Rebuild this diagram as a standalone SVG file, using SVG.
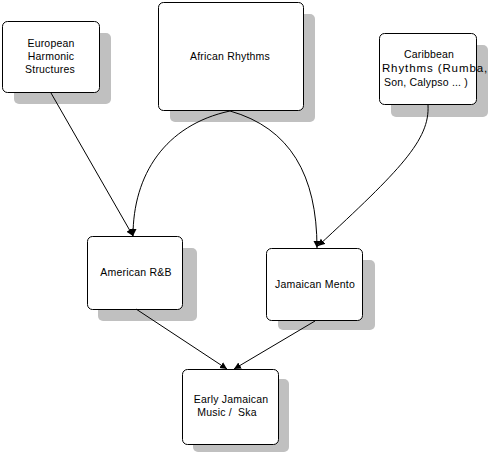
<svg xmlns="http://www.w3.org/2000/svg" width="489" height="455" viewBox="0 0 489 455">
<style>
.shadow{fill:#c0c0c0;stroke:none}
.box{fill:#ffffff;stroke:#000000;stroke-width:1}
.lbl{font-family:"Liberation Sans",Arial,sans-serif;font-size:10.5px;letter-spacing:0.2px;fill:#000000;text-anchor:middle}
.conn{fill:none;stroke:#000000;stroke-width:1;marker-end:url(#arrow)}
</style>
<defs>
<marker id="arrow" markerUnits="userSpaceOnUse" markerWidth="10" markerHeight="10" refX="7" refY="3.5" orient="auto">
<path d="M0,0 L7,3.5 L0,7 z" fill="#000000"/>
</marker>
</defs>
<rect width="489" height="455" fill="#ffffff"/>
<g id="european">
<rect class="shadow" x="14" y="33" width="97" height="71" rx="5"/>
<rect class="box" x="2.5" y="21.5" width="97" height="71" rx="5"/>
<text class="lbl" x="51" y="47">European</text>
<text class="lbl" x="51" y="60">Harmonic</text>
<text class="lbl" x="50" y="73">Structures</text>
</g>
<g id="african">
<rect class="shadow" x="170" y="14" width="145" height="108" rx="5"/>
<rect class="box" x="158.5" y="2.5" width="145" height="108" rx="5"/>
<text class="lbl" x="230" y="60">African Rhythms</text>
</g>
<g id="caribbean">
<rect class="shadow" x="391" y="45" width="97" height="72" rx="5"/>
<rect class="box" x="379.5" y="33.5" width="97" height="71" rx="5"/>
<text class="lbl" x="429" y="58">Caribbean</text>
<text class="lbl" x="435" y="72" style="font-size:11.5px;letter-spacing:0.9px">Rhythms (Rumba,</text>
<text class="lbl" x="426" y="86">Son, Calypso ... )</text>
</g>
<g id="american">
<rect class="shadow" x="98" y="248" width="99" height="73" rx="5"/>
<rect class="box" x="87.5" y="236.5" width="95" height="73" rx="5"/>
<text class="lbl" x="136" y="276">American R&amp;B</text>
</g>
<g id="mento">
<rect class="shadow" x="278" y="260" width="97" height="70" rx="5"/>
<rect class="box" x="266.5" y="248.5" width="96" height="72" rx="5"/>
<text class="lbl" x="315" y="288">Jamaican Mento</text>
</g>
<g id="early">
<rect class="shadow" x="193" y="379" width="96" height="73" rx="5"/>
<rect class="box" x="182.5" y="369.5" width="96" height="75" rx="5"/>
<text class="lbl" x="231" y="403">Early Jamaican</text>
<text class="lbl" x="227" y="416" xml:space="preserve">Music /  Ska</text>
</g>
<g id="connectors">
<path class="conn" d="M51,93 L133,236"/>
<path class="conn" d="M230,111 C165,125 133,175 133,236"/>
<path class="conn" d="M230,111 C290,128 317,175 317,248"/>
<path class="conn" d="M428,105 C430,140 400,170 318,246"/>
<path class="conn" d="M136,309 L227,369"/>
<path class="conn" d="M315,321 L234,369"/>
</g>
</svg>
